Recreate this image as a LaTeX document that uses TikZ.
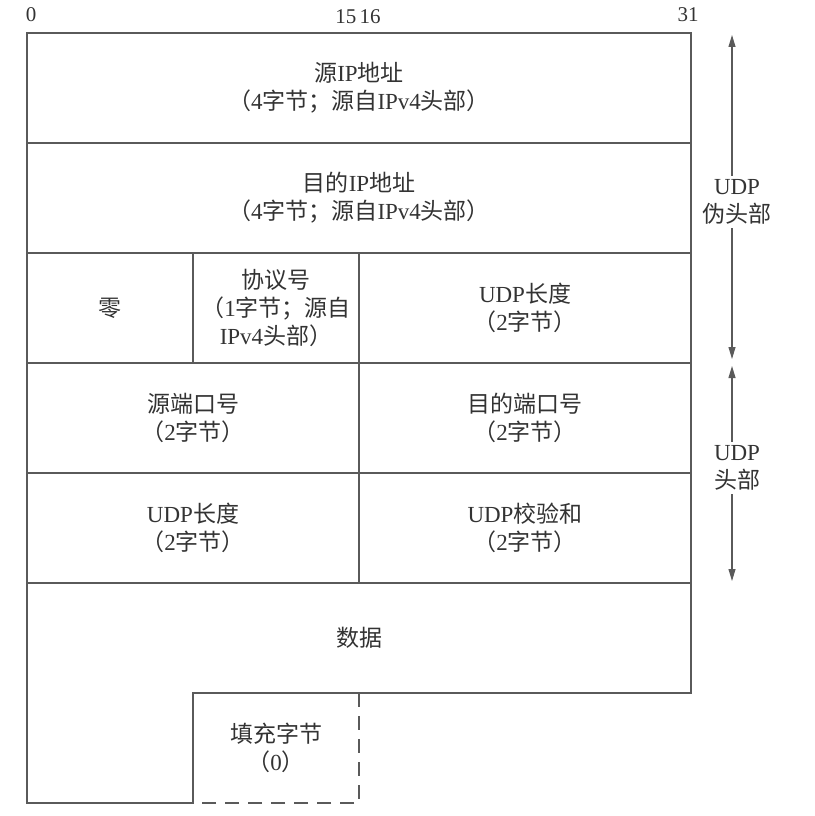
\documentclass[tikz,border=0pt]{standalone}
\usepackage{fontspec}
\setmainfont{Liberation Serif}
\newfontfamily\cjk{Noto Sans CJK SC}
\newcommand\C[1]{{\cjk #1}}
\usetikzlibrary{arrows.meta}
\definecolor{ln}{HTML}{5A5A5A}
\definecolor{txt}{HTML}{333333}
\begin{document}
\begin{tikzpicture}[x=1pt,y=-1pt,line width=1.3pt,
  every node/.style={text=txt,font=\fontsize{23}{28}\selectfont,align=center},
  field/.style={draw=ln,minimum height=110pt,inner sep=0pt},
  arr/.style={draw=ln,line width=1.1pt,-{Triangle[length=12pt,width=7pt]}},
  dashedge/.style={draw=ln,dash pattern=on 14pt off 9pt}]
\useasboundingbox (0,0) rectangle (814,816);
% top bit numbers
\node[font=\fontsize{21}{25}\selectfont] (b0) at (31,15) {0};
\node[font=\fontsize{21}{25}\selectfont] (b15) at (358,17) {15\,16};
\node[font=\fontsize{21}{25}\selectfont] (b31) at (688,15) {31};
% pseudo header
\node[field,minimum width=664pt] (srcip) at (359,88) {\C{源}IP\C{地址}\\\C{（}4\C{字节；源自}IPv4\C{头部）}};
\node[field,minimum width=664pt] (dstip) at (359,198) {\C{目的}IP\C{地址}\\\C{（}4\C{字节；源自}IPv4\C{头部）}};
\node[field,minimum width=166pt] (zero) at (110,308) {\C{零}};
\node[field,minimum width=166pt] (proto) at (276,308) {\C{协议号}\\\C{（}1\C{字节；源自}\\IPv4\C{头部）}};
\node[field,minimum width=332pt] (plen) at (525,308) {UDP\C{长度}\\\C{（}2\C{字节）}};
% udp header
\node[field,minimum width=332pt] (sport) at (193,418) {\C{源端口号}\\\C{（}2\C{字节）}};
\node[field,minimum width=332pt] (dport) at (525,418) {\C{目的端口号}\\\C{（}2\C{字节）}};
\node[field,minimum width=332pt] (ulen) at (193,528) {UDP\C{长度}\\\C{（}2\C{字节）}};
\node[field,minimum width=332pt] (cksum) at (525,528) {UDP\C{校验和}\\\C{（}2\C{字节）}};
% data
\node (data) at (359,638) {\C{数据}};
\draw[ln] (27,583) -- (27,803) -- (193,803) -- (193,693) -- (691,693) -- (691,583);
% padding
\node (pad) at (276,748) {\C{填充字节}\\\C{（}0\C{）}};
\draw[dashedge] (359,693) -- (359,803) -- (193,803);
% right labels and arrows
\coordinate (phtop) at (732,35);
\coordinate (phbot) at (732,359);
\coordinate (uhtop) at (732,366);
\coordinate (uhbot) at (732,581);
\node (ph) at (737,202) {UDP\\\C{伪头部}};
\node (uh) at (737,468) {UDP\\\C{头部}};
\draw[arr] (ph.north -| phtop) -- (phtop);
\draw[arr] (ph.south -| phbot) -- (phbot);
\draw[arr] (uh.north -| uhtop) -- (uhtop);
\draw[arr] (uh.south -| uhbot) -- (uhbot);
\end{tikzpicture}
\end{document}
